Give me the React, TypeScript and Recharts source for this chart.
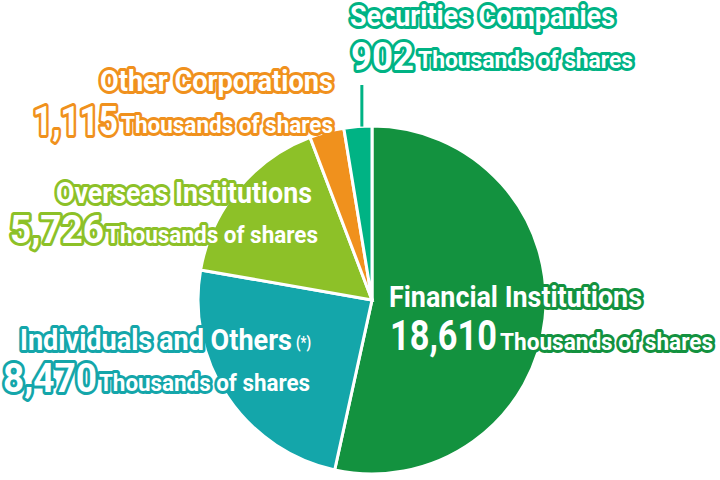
import React from 'react';
import { PieChart, Pie, Cell } from 'recharts';

// Shareholders by type (thousands of shares)
const categories = [
  'Financial Institutions',
  'Individuals and Others',
  'Overseas Institutions',
  'Other Corporations',
  'Securities Companies',
];
const shares = [18610, 8470, 5726, 1115, 902];
const unitLabel = 'Thousands of shares';
const notes = ['', '(*)', '', '', ''];

const colors = ['#13923f', '#14a6aa', '#8dc128', '#f0911d', '#00b384'];

// where each label sits: title line, number, unit
const labelLayout = [
  { tx: 389, ty: 307, tw: 253, nx: 390, ny: 350, nw: 107, nfs: 42, ux: 500, uy: 350, uw: 213 },
  { tx: 20, ty: 350, tw: 272, nx: 3, ny: 392, nw: 94, nfs: 40, ux: 99, uy: 391, uw: 211 },
  { tx: 56, ty: 203, tw: 256, nx: 10, ny: 243, nw: 94, nfs: 38, ux: 106, uy: 243, uw: 212 },
  { tx: 100, ty: 91, tw: 233, nx: 33, ny: 135, nw: 85, nfs: 40, ux: 121, uy: 133, uw: 212 },
  { tx: 350, ty: 26, tw: 265, nx: 351, ny: 70, nw: 63, nfs: 38, ux: 418, uy: 68, uw: 215 },
];

const data = categories.map((name, i) => ({ name, value: shares[i], note: notes[i] }));

const FONT = 'Roboto, "Noto Sans", sans-serif';

const outlined = (color: string) => ({
  fill: '#ffffff',
  stroke: color,
  strokeWidth: 6,
  strokeLinejoin: 'round' as const,
  paintOrder: 'stroke',
  fontFamily: FONT,
  fontWeight: 700,
});

const renderLabel = (props: any) => {
  const { index, cx, cy, outerRadius, midAngle, name, value } = props;
  const l = labelLayout[index];
  const c = colors[index];
  const st = outlined(c);
  const note = data[index].note;
  const RAD = Math.PI / 180;
  const lx = cx + outerRadius * Math.cos(-midAngle * RAD);
  const ly = cy + outerRadius * Math.sin(-midAngle * RAD);
  return (
    <g key={`lbl-${index}`}>
      {index === 4 && (
        <line x1={lx + 4} y1={85} x2={lx + 4} y2={ly} stroke={c} strokeWidth={3} />
      )}
      <text x={l.tx} y={l.ty} fontSize={29} textLength={l.tw} lengthAdjust="spacingAndGlyphs" style={st}>
        {name}
      </text>
      {note && (
        <text x={l.tx + l.tw + 4} y={l.ty - 2} fontSize={17} textLength={15} lengthAdjust="spacingAndGlyphs" style={{ ...st, strokeWidth: 5 }}>
          {note}
        </text>
      )}
      <text x={l.nx} y={l.ny} fontSize={l.nfs} textLength={l.nw} lengthAdjust="spacingAndGlyphs" style={st}>
        {Number(value).toLocaleString('en-US')}
      </text>
      <text x={l.ux} y={l.uy} fontSize={24} textLength={l.uw} lengthAdjust="spacingAndGlyphs" style={st}>
        {unitLabel}
      </text>
    </g>
  );
};

export default function App() {
  return (
    <div style={{ position: 'absolute', left: 0, top: 0, width: 720, height: 480, background: '#ffffff' }}>
      <PieChart width={720} height={480} margin={{ top: 0, right: 0, bottom: 0, left: 0 }}>
        <Pie
          data={data}
          dataKey="value"
          nameKey="name"
          cx={372}
          cy={300}
          outerRadius={174}
          startAngle={90}
          endAngle={-270}
          stroke="#ffffff"
          strokeWidth={3}
          label={renderLabel}
          labelLine={false}
          isAnimationActive={false}
        >
          {data.map((d, i) => (
            <Cell key={d.name} fill={colors[i]} />
          ))}
        </Pie>
      </PieChart>
    </div>
  );
}
